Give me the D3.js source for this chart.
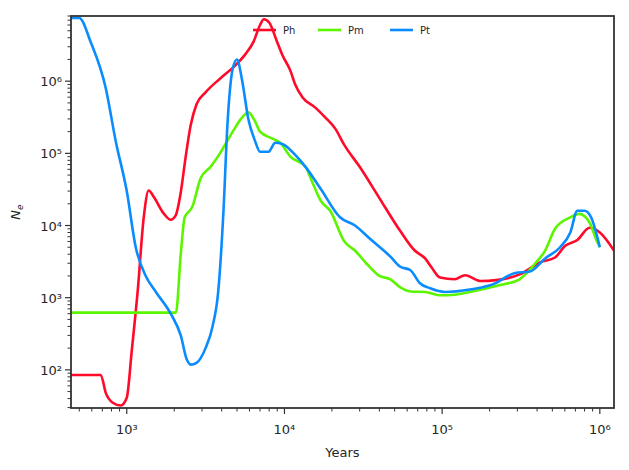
<!DOCTYPE html>
<html>
<head>
<meta charset="utf-8">
<script src="https://cdn.jsdelivr.net/npm/d3@7"></script>
<style>
  body { margin: 0; background: #fff; }
  text { font-family: "DejaVu Sans", sans-serif; fill: #262626; }
</style>
</head>
<body>
<div id="chart"></div>
<script>
const seriesNames = ['Ph', 'Pm', 'Pt']
const colors = { Ph: '#ff0a2a', Pm: '#5cf500', Pt: '#0a8cff' }

const phYears = [443, 684, 736, 815, 916, 1000, 1076, 1174, 1281, 1378, 1482, 1714, 1899, 2040, 2196, 2361, 2543, 2770, 3160, 3930, 4900, 5660, 6360, 7000, 7400, 8000, 8900, 9700, 10900, 11700, 13000, 15700, 18000, 21000, 24000, 30000, 40000, 54000, 67000, 78000, 86000, 97000, 120000, 140000, 175000, 220000, 310000, 420000, 520000, 600000, 720000, 860000, 1000000, 1230000]
const phNe = [85, 85, 48, 35, 32, 41, 184, 1260, 12900, 30600, 25000, 14700, 12000, 13700, 28000, 88000, 245000, 480000, 700000, 1100000, 1670000, 2370000, 3500000, 6000000, 7200000, 6500000, 3700000, 2300000, 1400000, 900000, 600000, 430000, 320000, 220000, 130000, 65000, 24000, 8500, 4500, 3500, 2600, 1900, 1800, 2050, 1700, 1750, 2100, 3100, 3600, 5200, 6300, 9300, 8000, 4500]

const pmYears = [443, 2050, 2200, 2330, 2600, 2940, 3400, 3900, 4700, 5300, 5900, 6500, 7000, 8400, 9400, 10900, 13600, 15000, 17000, 19500, 24000, 28000, 33000, 40000, 47000, 54000, 63000, 78000, 96000, 120000, 150000, 220000, 310000, 390000, 450000, 520000, 650000, 740000, 860000, 960000, 1000000]
const pmNe = [620, 620, 4000, 13000, 18000, 45000, 65000, 100000, 200000, 300000, 370000, 280000, 200000, 160000, 140000, 90000, 65000, 40000, 22000, 16000, 6000, 4500, 3000, 2000, 1800, 1400, 1220, 1200, 1080, 1100, 1200, 1450, 1800, 3000, 4500, 9000, 13000, 14500, 11000, 6000, 5000]

const ptYears = [443, 500, 590, 736, 850, 1000, 1140, 1320, 1530, 1900, 2200, 2400, 2540, 2770, 3160, 3500, 3800, 4100, 4350, 4700, 5000, 5400, 5900, 6500, 7000, 7900, 8750, 9700, 11700, 13600, 17000, 22500, 28000, 35000, 47000, 54000, 63000, 72000, 84000, 104000, 150000, 220000, 250000, 290000, 360000, 450000, 560000, 650000, 720000, 800000, 880000, 1000000]
const ptNe = [7500000, 7500000, 3500000, 800000, 150000, 30000, 5000, 2000, 1200, 600, 300, 140, 118, 125, 200, 400, 1200, 15000, 250000, 1500000, 2000000, 1000000, 300000, 150000, 105000, 105000, 140000, 135000, 95000, 65000, 32000, 13000, 10000, 6500, 3700, 2700, 2400, 1600, 1350, 1200, 1300, 1600, 1900, 2200, 2300, 3500, 5000, 8000, 16000, 16000, 13000, 5000]

const xTicks = [1e3, 1e4, 1e5, 1e6]
const yTicks = [1e2, 1e3, 1e4, 1e5, 1e6]

const series = {
  Ph: d3.zip(phYears, phNe),
  Pm: d3.zip(pmYears, pmNe),
  Pt: d3.zip(ptYears, ptNe),
}

const width = 629, height = 470
const margin = { top: 16, right: 15, bottom: 62, left: 71 }

const svg = d3.select('#chart').append('svg')
  .attr('width', width).attr('height', height)

const x = d3.scaleLog().domain([443, 1.23e6]).range([margin.left, width - margin.right])
const y = d3.scaleLog().domain([29.6, 8e6]).range([height - margin.bottom, margin.top])

svg.append('clipPath').attr('id', 'clip').append('rect')
  .attr('x', margin.left).attr('y', margin.top)
  .attr('width', width - margin.right - margin.left)
  .attr('height', height - margin.bottom - margin.top)

// minor ticks
function minors(scale) {
  const [a, b] = scale.domain()
  const out = []
  for (let e = Math.floor(Math.log10(a)); e <= Math.ceil(Math.log10(b)); e++)
    for (let m = 2; m < 10; m++) {
      const v = m * Math.pow(10, e)
      if (v >= a && v <= b) out.push(v)
    }
  return out
}

const sup = n => {
  const map = { '-': '⁻', '0': '⁰', '1': '¹', '2': '²', '3': '³', '4': '⁴', '5': '⁵', '6': '⁶', '7': '⁷', '8': '⁸', '9': '⁹' }
  return String(n).split('').map(c => map[c]).join('')
}

const axisColor = '#333'
const xb = height - margin.bottom

const gx = svg.append('g')
gx.selectAll('line.minor').data(minors(x)).join('line')
  .attr('x1', d => x(d)).attr('x2', d => x(d)).attr('y1', xb).attr('y2', xb + 3.5)
  .attr('stroke', axisColor).attr('stroke-width', 1)
gx.selectAll('line.major').data(xTicks).join('line')
  .attr('x1', d => x(d)).attr('x2', d => x(d)).attr('y1', xb).attr('y2', xb + 6)
  .attr('stroke', axisColor).attr('stroke-width', 1.2)
gx.selectAll('text').data(xTicks).join('text')
  .attr('x', d => x(d)).attr('y', xb + 26)
  .attr('text-anchor', 'middle').attr('font-size', 13)
  .text(d => '10' + sup(Math.round(Math.log10(d))))

const gy = svg.append('g')
gy.selectAll('line.minor').data(minors(y)).join('line')
  .attr('x1', margin.left - 3.5).attr('x2', margin.left).attr('y1', d => y(d)).attr('y2', d => y(d))
  .attr('stroke', axisColor).attr('stroke-width', 1)
gy.selectAll('line.major').data(yTicks).join('line')
  .attr('x1', margin.left - 6).attr('x2', margin.left).attr('y1', d => y(d)).attr('y2', d => y(d))
  .attr('stroke', axisColor).attr('stroke-width', 1.2)
gy.selectAll('text').data(yTicks).join('text')
  .attr('x', margin.left - 9).attr('y', d => y(d) + 5)
  .attr('text-anchor', 'end').attr('font-size', 13)
  .text(d => '10' + sup(Math.round(Math.log10(d))))

const line = d3.line().x(d => x(d[0])).y(d => y(d[1])).curve(d3.curveMonotoneX)

svg.append('g').attr('clip-path', 'url(#clip)')
  .selectAll('path').data(seriesNames).join('path')
  .attr('d', k => line(series[k]))
  .attr('fill', 'none')
  .attr('stroke', k => colors[k])
  .attr('stroke-width', 2.6)
  .attr('stroke-linejoin', 'round')

// frame
svg.append('rect')
  .attr('x', margin.left).attr('y', margin.top)
  .attr('width', width - margin.right - margin.left)
  .attr('height', height - margin.bottom - margin.top)
  .attr('fill', 'none').attr('stroke', axisColor).attr('stroke-width', 1.8)

// legend
const legendX = [253, 318, 390]
const lg = svg.append('g').selectAll('g').data(seriesNames).join('g')
  .attr('transform', (d, i) => `translate(${legendX[i]},30)`)
lg.append('line').attr('x1', 0).attr('x2', 23)
  .attr('stroke', d => colors[d]).attr('stroke-width', 2.6)
lg.append('text').attr('x', 30).attr('y', 4).attr('font-size', 10).text(d => d)

svg.append('text')
  .attr('x', (margin.left + width - margin.right) / 2).attr('y', 457)
  .attr('text-anchor', 'middle').attr('font-size', 13).text('Years')

const yl = svg.append('text')
  .attr('transform', `translate(20,${(margin.top + height - margin.bottom) / 2}) rotate(-90)`)
  .attr('text-anchor', 'middle').attr('font-size', 13)
yl.append('tspan').attr('font-style', 'italic').text('N')
yl.append('tspan').attr('font-style', 'italic').attr('font-size', 9).attr('dy', 3).text('e')
</script>
</body>
</html>
